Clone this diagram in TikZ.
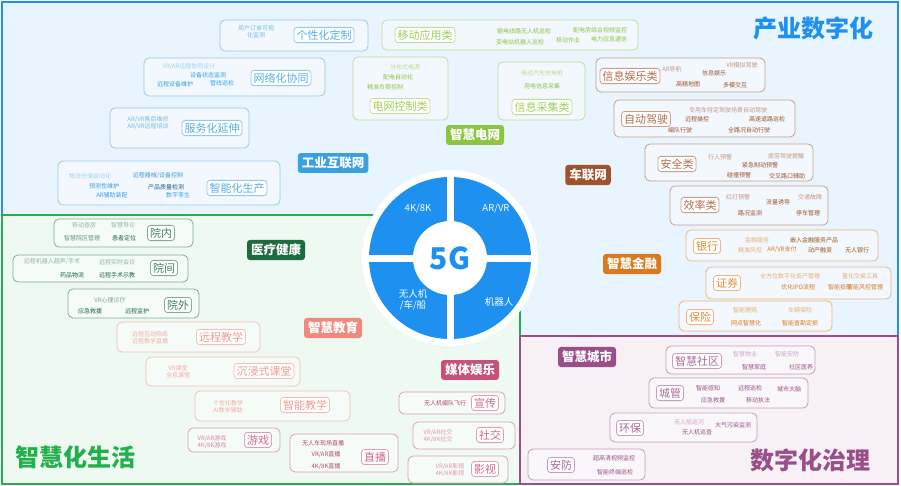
\documentclass[tikz,border=0pt]{standalone}
\usepackage{fontspec}
\setmainfont{Noto Sans CJK SC}
\definecolor{cInd}{HTML}{3AA0E0}
\definecolor{cGrid}{HTML}{8CC63F}
\definecolor{cCar}{HTML}{A0522D}
\definecolor{cFin}{HTML}{D97A1E}
\definecolor{cMed}{HTML}{1E6B3F}
\definecolor{cEdu}{HTML}{EE8A7E}
\definecolor{cMedia}{HTML}{C8507A}
\definecolor{cCity}{HTML}{9A4F8A}
\definecolor{cBlue}{HTML}{1E90F0}
\definecolor{cLife}{HTML}{22B04B}
\tikzset{
  tag/.style={rounded corners=3pt, fill=#1, text=white, font=\bfseries\fontsize{12.5}{15}\selectfont, inner sep=4pt},
  lbl/.style={draw=#1!55, rounded corners=3pt, fill=white, text=#1!85, font=\fontsize{11}{13}\selectfont, inner sep=2.5pt, line width=0.8pt},
  tiny/.style={text=#1, font=\fontsize{6}{7}\selectfont, align=center, inner sep=0pt},
  box/.style={draw=#1!55, rounded corners=5pt, fill=white, fill opacity=0.45, line width=0.8pt},
  title/.style={text=#1, font=\bfseries\fontsize{24}{28}\selectfont},
  ring/.style={text=white, font=\fontsize{9.5}{11.5}\selectfont, align=center}
}
\begin{document}
\begin{tikzpicture}[x=1pt,y=-1pt]
\useasboundingbox (0,0) rectangle (901,486);

% panels
\draw[cBlue, fill=cBlue!10, line width=1.5pt] (2,2) -- (898,2) -- (898,336) -- (520,336) -- (520,215) -- (2,215) -- cycle;
\draw[cLife, fill=cLife!8, line width=1.5pt] (2,215) rectangle (520,484);
\draw[cCity, fill=cCity!8, line width=1.5pt] (520,336) rectangle (898,484);

\node[title=cBlue] (tInd) at (813,28) {产业数字化};
\node[title=cLife] (tLife) at (75,457) {智慧化生活};
\node[title=cCity] (tGov) at (810,460) {数字化治理};

% 5G circle
\fill[white] (450,258) circle[radius=88pt];
\fill[cBlue] (450,258) circle[radius=81pt];
\draw[white, line width=7pt] (369,258) -- (531,258);
\draw[white, line width=7pt] (450,177) -- (450,339);
\fill[white] (450,258) circle[radius=37pt];
\node[text=cBlue, font=\bfseries\fontsize{30}{34}\selectfont] (fiveg) at (450,258) {5G};
\node[ring] (hd) at (418,209) {4K/8K};
\node[ring] (arvr) at (496,209) {AR/VR};
\node[ring] (uav) at (413,300) {无人机\\/车/船};
\node[ring] (robot) at (499,302) {机器人};

% category tags
\node[tag=cInd] (ind) at (333,163) {工业互联网};
\node[tag=cGrid] (grid) at (475,135) {智慧电网};
\node[tag=cCar] (car) at (588,175) {车联网};
\node[tag=cFin] (fin) at (632,264) {智慧金融};
\node[tag=cMed] (med) at (276,250) {医疗健康};
\node[tag=cEdu] (edu) at (333,328) {智慧教育};
\node[tag=cMedia] (media) at (470,370) {媒体娱乐};
\node[tag=cCity] (city) at (587,357) {智慧城市};

% industrial internet
\draw[box=cInd] (220,20) rectangle (368,51);
\node[lbl=cInd] (custom) at (324,35) {个性化定制};
\node[tiny=cInd!70] (c1) at (256,32) {用户订单可视\\化监测};
\draw[box=cInd] (144,58) rectangle (325,96);
\node[lbl=cInd] (collab) at (281,78) {网络化协同};
\node[tiny=cInd!50] (n1) at (189,67) {VR/AR远程协同设计};
\node[tiny=cInd] (n2) at (208,75) {设备状态监测};
\node[tiny=cInd] (n3) at (175,84) {远程设备维护};
\node[tiny=cInd] (n4) at (222,83) {管线巡检};
\draw[box=cInd] (110,108) rectangle (249,148);
\node[lbl=cInd] (service) at (212,128) {服务化延伸};
\node[tiny=cInd!70] (s1) at (148,123) {AR/VR售后维修\\AR/VR远程培训};
\draw[box=cInd] (58,161) rectangle (280,205);
\node[lbl=cInd] (prod) at (237,188) {智能化生产};
\node[tiny=cInd!50] (p1) at (90,176) {物流仓储自动化};
\node[tiny=cInd] (p2) at (158,176) {远程器械/设备控制};
\node[tiny=cInd] (p3) at (104,186) {预测性维护};
\node[tiny=cInd!60!black] (p4) at (166,187) {产品质量检测};
\node[tiny=cInd] (p5) at (112,195) {AR辅助装配};
\node[tiny=cInd] (p6) at (178,195) {数字孪生};

% smart grid
\draw[box=cGrid] (382,20) rectangle (638,50);
\node[lbl=cGrid] (mobile) at (425,35) {移动应用类};
\node[tiny=cGrid] (m1) at (524,31) {输电线路无人机巡检};
\node[tiny=cGrid] (m2) at (600,30) {配电房综合视频监控};
\node[tiny=cGrid] (m3) at (520,42) {变电站机器人巡检};
\node[tiny=cGrid] (m4) at (568,40) {移动作业};
\node[tiny=cGrid] (m5) at (609,39) {电力应急通信};
\draw[box=cGrid] (353,57) rectangle (448,120);
\node[lbl=cGrid] (control) at (400,106) {电网控制类};
\node[tiny=cGrid!60] (g1) at (405,67) {分布式电源};
\node[tiny=cGrid] (g2) at (398,77) {配电自动化};
\node[tiny=cGrid] (g3) at (385,87) {精准负荷控制};
\draw[box=cGrid] (498,62) rectangle (585,120);
\node[lbl=cGrid] (collect) at (542,107) {信息采集类};
\node[tiny=cGrid!60] (i1) at (542,73) {电动汽车充电桩};
\node[tiny=cGrid] (i2) at (542,86) {用电信息采集};

% internet of vehicles
\draw[box=cCar] (596,58) rectangle (765,92);
\node[lbl=cCar] (info) at (630,76) {信息娱乐类};
\node[tiny=cCar!60] (v1) at (672,69) {AR导航};
\node[tiny=cCar!60] (v2) at (742,65) {VR模拟驾驶};
\node[tiny=cCar] (v3) at (714,73) {信息娱乐};
\node[tiny=cCar] (v4) at (688,84) {高精地图};
\node[tiny=cCar] (v5) at (735,85) {多模交互};
\draw[box=cCar] (614,100) rectangle (795,137);
\node[lbl=cCar] (auto) at (646,119) {自动驾驶};
\node[tiny=cCar!60] (a1) at (728,110) {专用车特定驾驶场景自动驾驶};
\node[tiny=cCar] (a2) at (697,119) {远程操控};
\node[tiny=cCar] (a3) at (767,119) {高速道路巡检};
\node[tiny=cCar] (a4) at (680,130) {编队行驶};
\node[tiny=cCar] (a5) at (749,130) {全路况自动行驶};
\draw[box=cCar] (645,144) rectangle (813,181);
\node[lbl=cCar] (safe) at (677,164) {安全类};
\node[tiny=cCar!60] (f1) at (720,157) {行人预警};
\node[tiny=cCar!60] (f2) at (786,156) {疲劳驾驶提醒};
\node[tiny=cCar] (f3) at (760,165) {紧急制动预警};
\node[tiny=cCar] (f4) at (739,175) {碰撞预警};
\node[tiny=cCar] (f5) at (787,176) {交叉路口辅助};
\draw[box=cCar] (670,186) rectangle (828,225);
\node[lbl=cCar] (eff) at (700,205) {效率类};
\node[tiny=cCar!60] (e1) at (738,197) {红灯预警};
\node[tiny=cCar] (e2) at (778,202) {流量诱导};
\node[tiny=cCar!60] (e3) at (810,197) {交通故障};
\node[tiny=cCar] (e4) at (750,213) {路况监测};
\node[tiny=cCar] (e5) at (808,213) {停车管理};

% smart finance
\draw[box=cFin] (686,230) rectangle (878,261);
\node[lbl=cFin] (bank) at (707,246) {银行};
\node[tiny=cFin!60] (b1) at (757,240) {金融服务};
\node[tiny=cFin!70!black] (b2) at (814,240) {嵌入金融服务产品};
\node[tiny=cFin!60] (b3) at (750,250) {精准风控};
\node[tiny=cFin] (b4) at (782,250) {AR/VR支付};
\node[tiny=cFin!70!black] (b5) at (820,250) {动产融资};
\node[tiny=cFin!70!black] (b6) at (857,250) {无人银行};
\draw[box=cFin] (706,267) rectangle (891,299);
\node[lbl=cFin] (sec) at (727,283) {证券};
\node[tiny=cFin!60] (q1) at (790,276) {全方位数字化资产管理};
\node[tiny=cFin!60] (q2) at (860,276) {量化交易工具};
\node[tiny=cFin] (q3) at (798,287) {优化IPO流程};
\node[tiny=cFin] (q4) at (840,287) {智能投研};
\node[tiny=cFin] (q5) at (865,287) {智能风控管理};
\draw[box=cFin] (679,301) rectangle (832,331);
\node[lbl=cFin] (ins) at (700,317) {保险};
\node[tiny=cFin!60] (r1) at (745,310) {智能理赔};
\node[tiny=cFin!60] (r2) at (800,310) {车辆保险};
\node[tiny=cFin] (r3) at (746,323) {网点智慧化};
\node[tiny=cFin] (r4) at (800,323) {智能查勘定损};

% smart city
\draw[box=cCity] (666,346) rectangle (815,374);
\node[lbl=cCity] (comm) at (697,361) {智慧社区};
\node[tiny=cCity!50] (k1) at (745,354) {智慧物业};
\node[tiny=cCity!50] (k2) at (787,354) {智能安防};
\node[tiny=cCity] (k3) at (754,367) {智慧家庭};
\node[tiny=cCity] (k4) at (801,367) {社区医养};
\draw[box=cCity] (649,378) rectangle (808,408);
\node[lbl=cCity] (urban) at (670,393) {城管};
\node[tiny=cCity] (u1) at (708,388) {智能感知};
\node[tiny=cCity] (u2) at (750,388) {远程巡检};
\node[tiny=cCity] (u3) at (789,389) {城市大脑};
\node[tiny=cCity] (u4) at (713,400) {应急救援};
\node[tiny=cCity] (u5) at (758,400) {移动执法};
\draw[box=cCity] (610,413) rectangle (757,442);
\node[lbl=cCity] (env) at (630,428) {环保};
\node[tiny=cCity!50] (w1) at (689,422) {无人船巡河};
\node[tiny=cCity] (w2) at (733,425) {大气污染监测};
\node[tiny=cCity] (w3) at (697,432) {无人机巡查};
\draw[box=cCity] (528,449) rectangle (645,480);
\node[lbl=cCity] (secu) at (561,465) {安防};
\node[tiny=cCity] (h1) at (614,458) {超高清视频监控};
\node[tiny=cCity] (h2) at (615,472) {智能终端巡检};

% medical
\draw[box=cMed] (54,219) rectangle (193,247);
\node[lbl=cMed] (inner) at (161,233) {院内};
\node[tiny=cMed!50] (d1) at (84,225) {移动查房};
\node[tiny=cMed!50] (d2) at (123,225) {智慧导诊};
\node[tiny=cMed!70] (d3) at (82,238) {智慧院区管理};
\node[tiny=cMed] (d4) at (124,238) {患者定位};
\draw[box=cMed] (13,255) rectangle (188,282);
\node[lbl=cMed] (between) at (164,268) {院间};
\node[tiny=cMed!50] (j1) at (52,262) {远程机器人超声/手术};
\node[tiny=cMed!50] (j2) at (117,262) {远程实时会诊};
\node[tiny=cMed] (j3) at (72,275) {药品物流};
\node[tiny=cMed] (j4) at (117,275) {远程手术示教};
\draw[box=cMed] (68,289) rectangle (199,318);
\node[lbl=cMed] (outer) at (178,305) {院外};
\node[tiny=cMed!60] (o1) at (110,300) {VR心理诊疗};
\node[tiny=cMed] (o2) at (90,311) {应急救援};
\node[tiny=cMed] (o3) at (137,311) {远程监护};

% education
\draw[box=cEdu] (117,322) rectangle (260,352);
\node[lbl=cEdu] (remote) at (221,337) {远程教学};
\node[tiny=cEdu!70] (l1) at (150,338) {远程互动陪练\\远程教学直播};
\draw[box=cEdu] (146,357) rectangle (300,386);
\node[lbl=cEdu] (immer) at (264,371) {沉浸式课堂};
\node[tiny=cEdu!70] (l2) at (178,372) {VR课堂\\全息课堂};
\draw[box=cEdu] (195,391) rectangle (350,421);
\node[lbl=cEdu] (smartt) at (305,405) {智能教学};
\node[tiny=cEdu!70] (l3) at (228,407) {个性化教学\\AI教学辅助};

% media and entertainment
\draw[box=cMedia] (188,428) rectangle (280,452);
\node[lbl=cMedia] (game) at (258,440) {游戏};
\node[tiny=cMedia!70] (y1) at (212,442) {VR/AR游戏\\4K/8K游戏};
\draw[box=cMedia] (290,434) rectangle (398,472);
\node[lbl=cMedia] (live) at (375,457) {直播};
\node[tiny=cMedia!90!black] (z1) at (323,443) {无人车现场直播};
\node[tiny=cMedia!90!black] (z2) at (326,455) {VR/AR直播};
\node[tiny=cMedia!90!black] (z3) at (326,467) {4K/8K直播};
\draw[box=cMedia] (399,392) rectangle (505,414);
\node[lbl=cMedia] (promo) at (485,403) {宣传};
\node[tiny=cMedia!90!black] (x1) at (445,403) {无人机编队飞行};
\draw[box=cMedia] (413,422) rectangle (515,449);
\node[lbl=cMedia] (social) at (490,435) {社交};
\node[tiny=cMedia!60] (x2) at (438,436) {VR/AR社交\\4K/8K社交};
\draw[box=cMedia] (408,456) rectangle (508,483);
\node[lbl=cMedia] (film) at (485,469) {影视};
\node[tiny=cMedia!60] (x3) at (450,470) {VR/AR影视\\4K/8K影视};

\end{tikzpicture}
\end{document}
